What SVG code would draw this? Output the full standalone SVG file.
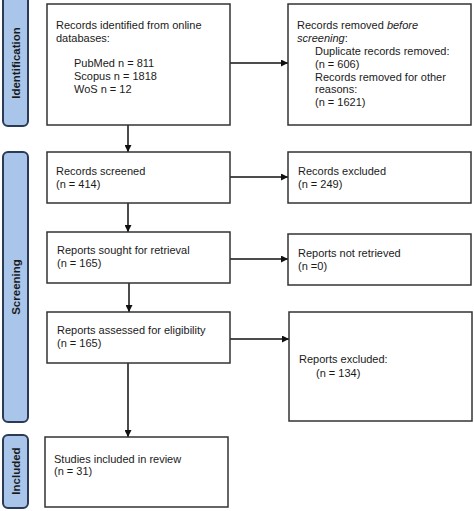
<svg xmlns="http://www.w3.org/2000/svg" width="474" height="511" viewBox="0 0 474 511">
<style>
.bar{fill:#a9c5ea;stroke:#2b3a55;stroke-width:2}
.box{fill:#fff;stroke:#333;stroke-width:1.5}
.t{font-family:"Liberation Sans",Arial,sans-serif;font-size:11px;fill:#1a1a1a}
.lab{font-family:"Liberation Sans",Arial,sans-serif;font-size:11.5px;font-weight:bold;fill:#1a1a1a;text-anchor:middle}
.c{stroke:#111;stroke-width:1.5;fill:none}
</style>
<defs>
<marker id="ah" viewBox="0 0 10 10" refX="10" refY="5" markerWidth="7" markerHeight="7" markerUnits="userSpaceOnUse" orient="auto">
<path d="M0,0 L10,5 L0,10 z" fill="#111"/>
</marker>
</defs>
<rect width="474" height="511" fill="#fff"/>
<g id="bar-identification"><rect class="bar" x="3" y="-8" width="25" height="134" rx="5"/><text class="lab" transform="translate(20,63) rotate(-90)">Identification</text></g>
<g id="bar-screening"><rect class="bar" x="3" y="152" width="25" height="270" rx="5"/><text class="lab" transform="translate(20,287) rotate(-90)">Screening</text></g>
<g id="bar-included"><rect class="bar" x="3" y="435" width="25" height="73" rx="5"/><text class="lab" transform="translate(20,471) rotate(-90)">Included</text></g>
<g id="connectors">
<path class="c" d="M230,63 H288" marker-end="url(#ah)"/>
<path class="c" d="M128,125 V152" marker-end="url(#ah)"/>
<path class="c" d="M230,177 H288" marker-end="url(#ah)"/>
<path class="c" d="M128,203 V232" marker-end="url(#ah)"/>
<path class="c" d="M230,259 H288" marker-end="url(#ah)"/>
<path class="c" d="M129,283 V312" marker-end="url(#ah)"/>
<path class="c" d="M230,339 H289" marker-end="url(#ah)"/>
<path class="c" d="M128,363 V437" marker-end="url(#ah)"/>
</g>
<g id="records-identified"><rect class="box" x="47" y="4" width="183" height="121"/>
<text class="t" x="56" y="29">Records identified from online</text>
<text class="t" x="56" y="42">databases:</text>
<text class="t" x="74" y="67">PubMed n = 811</text>
<text class="t" x="74" y="80">Scopus n = 1818</text>
<text class="t" x="74" y="93">WoS n = 12</text></g>
<g id="records-removed"><rect class="box" x="288" y="4" width="183" height="121"/>
<text class="t" x="297" y="29">Records removed <tspan font-style="italic">before</tspan></text>
<text class="t" x="297" y="42"><tspan font-style="italic">screening</tspan>:</text>
<text class="t" x="315" y="55">Duplicate records removed:</text>
<text class="t" x="315" y="68">(n = 606)</text>
<text class="t" x="315" y="81">Records removed for other</text>
<text class="t" x="315" y="93">reasons:</text>
<text class="t" x="315" y="106">(n = 1621)</text></g>
<g id="records-screened"><rect class="box" x="47" y="152" width="183" height="51"/>
<text class="t" x="56" y="175">Records screened</text>
<text class="t" x="56" y="188">(n = 414)</text></g>
<g id="records-excluded"><rect class="box" x="288" y="152" width="183" height="51"/>
<text class="t" x="298" y="175">Records excluded</text>
<text class="t" x="298" y="188">(n = 249)</text></g>
<g id="reports-sought"><rect class="box" x="47" y="232" width="183" height="51"/>
<text class="t" x="57" y="254">Reports sought for retrieval</text>
<text class="t" x="57" y="267">(n = 165)</text></g>
<g id="reports-not-retrieved"><rect class="box" x="288" y="234" width="183" height="51"/>
<text class="t" x="298" y="257">Reports not retrieved</text>
<text class="t" x="298" y="270">(n =0)</text></g>
<g id="reports-assessed"><rect class="box" x="47" y="312" width="183" height="51"/>
<text class="t" x="57" y="334">Reports assessed for eligibility</text>
<text class="t" x="57" y="347">(n = 165)</text></g>
<g id="reports-excluded"><rect class="box" x="289" y="312" width="183" height="109"/>
<text class="t" x="299" y="363">Reports excluded:</text>
<text class="t" x="316" y="377">(n = 134)</text></g>
<g id="studies-included"><rect class="box" x="45" y="437" width="183" height="70"/>
<text class="t" x="54" y="463">Studies included in review</text>
<text class="t" x="54" y="475">(n = 31)</text></g>
</svg>
